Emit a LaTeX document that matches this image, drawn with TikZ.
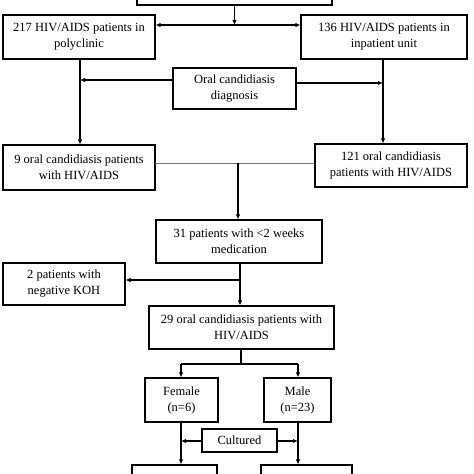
\documentclass[tikz,border=0pt]{standalone}
\usepackage{fontspec}
\setmainfont{Liberation Serif}
\usetikzlibrary{arrows.meta}
\tikzset{
  box/.style={draw, line width=1.1pt, align=center, inner sep=0pt, font=\fontsize{12.5}{16}\selectfont},
  arr/.style={line width=1.2pt, -{Latex[length=5pt,width=4.5pt]}},
  ln/.style={line width=1.2pt},
  thinln/.style={line width=0.7pt, black!55}
}
\begin{document}
\begin{tikzpicture}[x=1pt,y=-1pt]
\useasboundingbox (0,0) rectangle (474,474);
\clip (0,0) rectangle (474,474);
\fill[white] (0,0) rectangle (474,474);
\node[box, minimum width=195pt, minimum height=35pt] (top) at (234.5,-12.5) {};
\node[box, minimum width=152pt, minimum height=44pt] (n217) at (79,37) {217 HIV/AIDS patients in\\polyclinic};
\node[box, minimum width=166pt, minimum height=44pt] (n136) at (384,37) {136 HIV/AIDS patients in\\inpatient unit};
\node[box, minimum width=123pt, minimum height=41pt] (diag) at (234.5,88.5) {Oral candidiasis\\diagnosis};
\node[box, minimum width=152pt, minimum height=45pt] (n9) at (79,167.5) {9 oral candidiasis patients\\with HIV/AIDS};
\node[box, minimum width=152pt, minimum height=43pt] (n121) at (391,165.5) {121 oral candidiasis\\patients with HIV/AIDS};
\node[box, minimum width=166pt, minimum height=43pt] (n31) at (239,241.5) {31 patients with <2 weeks\\medication};
\node[box, minimum width=122pt, minimum height=42pt] (n2) at (64,284) {2 patients with\\negative KOH};
\node[box, minimum width=185pt, minimum height=43pt] (n29) at (241.5,327.5) {29 oral candidiasis patients with\\HIV/AIDS};
\node[box, minimum width=73pt, minimum height=44pt] (fem) at (181.5,400) {Female\\(n=6)};
\node[box, minimum width=67pt, minimum height=44pt] (mal) at (297.5,400) {Male\\(n=23)};
\node[box, minimum width=75pt, minimum height=23pt] (cult) at (239.5,440.5) {Cultured};
\node[box, minimum width=85pt, minimum height=35pt] (bl) at (174.5,482.5) {};
\node[box, minimum width=91pt, minimum height=35pt] (br) at (306.5,482.5) {};
% top split
\coordinate (j1) at (234.5,25);
\draw[arr] (top.south) -- (j1);
\draw[arr] (j1) -- (j1 -| n217.east);
\draw[arr] (j1) -- (j1 -| n136.west);
% verticals
\coordinate (lv) at (80,59);
\coordinate (rv) at (383,59);
\draw[arr] (lv) -- (lv |- n9.north);
\draw[arr] (rv) -- (rv |- n121.north);
% diagnosis
\coordinate (dl) at (173,80);
\coordinate (dr) at (296,83);
\draw[arr] (dl) -- (dl -| lv);
\draw[arr] (dr) -- (dr -| rv);
% merge
\coordinate (m1) at (155,163);
\coordinate (mc) at (238,163);
\draw[thinln] (m1) -- (m1 -| n121.west);
\draw[arr] (mc) -- (mc |- n31.north);
% 31 -> 29 and 2
\coordinate (c31) at (240,263);
\coordinate (b2) at (240,280);
\draw[arr] (c31) -- (c31 |- n29.north);
\draw[arr] (b2) -- (b2 -| n2.east);
% 29 -> sexes
\coordinate (s1) at (241,364);
\coordinate (fl) at (181,364);
\coordinate (mr) at (298,364);
\draw[ln] (n29.south -| s1) -- (s1);
\draw[ln] (fl) -- (mr);
\draw[arr] (fl) -- (fl |- fem.north);
\draw[arr] (mr) -- (mr |- mal.north);
% to bottom
\draw[arr] (fl |- fem.south) -- (fl |- bl.north);
\draw[arr] (mr |- mal.south) -- (mr |- br.north);
\coordinate (cy) at (0,441);
\draw[arr] (cult.west |- cy) -- (fl |- cy);
\draw[arr] (cult.east |- cy) -- (mr |- cy);
\end{tikzpicture}
\end{document}
